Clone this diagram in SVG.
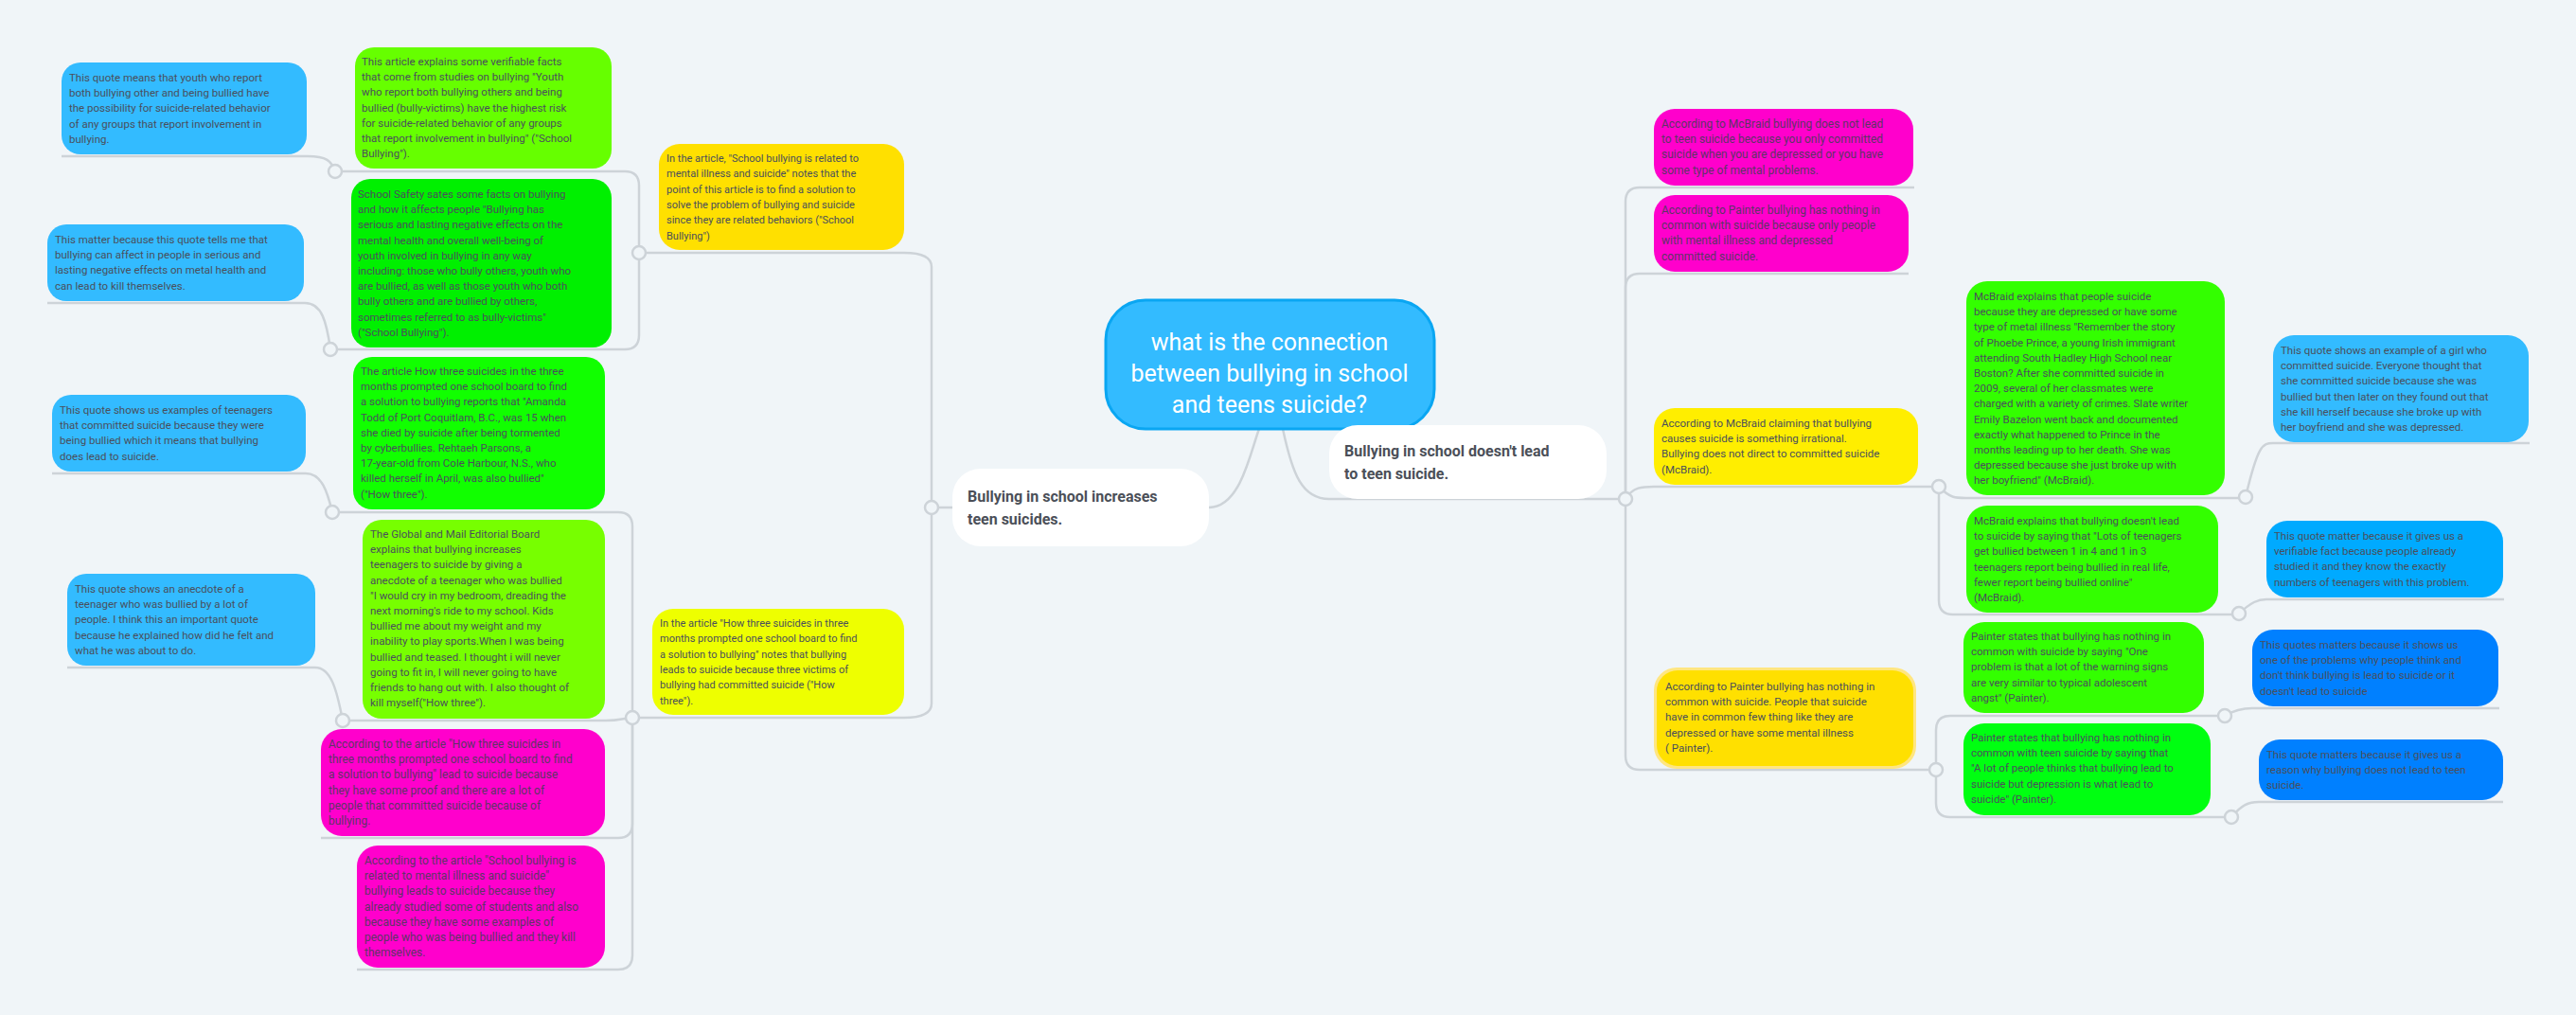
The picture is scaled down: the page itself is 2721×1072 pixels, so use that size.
<svg xmlns="http://www.w3.org/2000/svg" width="2721" height="1072" viewBox="0 0 2721 1072" xml:space="preserve">
<style>
.bg{fill:#f0f5f8}
.ln{fill:none;stroke:#cdd3d8;stroke-width:2.5}
.dot{fill:#f0f5f8;stroke:#cdd3d8;stroke-width:2.5}
.t{font-family:Roboto,"Liberation Sans",sans-serif;font-size:11.5px;fill:#4a4f5c}
.tm{font-family:Roboto,"Liberation Sans",sans-serif;font-size:12px;fill:#5c3566}
.ty{font-family:Roboto,"Liberation Sans",sans-serif;font-size:11px;fill:#4a4f5c}
.tb{font-family:Roboto,"Liberation Sans",sans-serif;font-size:16px;font-weight:bold;fill:#4b4f58}
.tc{font-family:Roboto,"Liberation Sans",sans-serif;font-size:25px;fill:#ffffff}
</style>
<rect class="bg" x="0" y="0" width="2721" height="1072"/>
<g id="connectors">
<path class="ln" d="M675 267 H955 Q984 267 984 282 V536"/>
<path class="ln" d="M668 758 H955 Q984 758 984 743 V536"/>
<path class="ln" d="M984 536 H1006"/>
<path class="ln" d="M354 181 H660 Q675 181 675 196 V267"/>
<path class="ln" d="M349 369 H660 Q675 369 675 354 V267"/>
<path class="ln" d="M351 541 H653 Q668 541 668 556 V758"/>
<path class="ln" d="M362 761 H640 C655 761 660 758 668 758"/>
<path class="ln" d="M339 885 H653 Q668 885 668 870 V758"/>
<path class="ln" d="M377 1024 H653 Q668 1024 668 1009 V758"/>
<path class="ln" d="M65 165 H325 C345 165 350 170 354 181"/>
<path class="ln" d="M50 320 H322 C340 320 345 340 349 369"/>
<path class="ln" d="M55 500 H323 C340 500 346 520 351 541"/>
<path class="ln" d="M71 705 H333 C350 705 356 730 362 761"/>
<path class="ln" d="M1277 536 C1310 536 1320 480 1330 453"/>
<path class="ln" d="M1355 453 C1365 500 1375 527 1404 527 H1717"/>
<path class="ln" d="M1717 527 V213 Q1717 198 1732 198 H2022"/>
<path class="ln" d="M1717 527 V304 Q1717 289 1732 289 H2016"/>
<path class="ln" d="M1717 527 C1725 514 1735 514 1747 514 H2048"/>
<path class="ln" d="M1717 527 V798 Q1717 813 1732 813 H2045"/>
<path class="ln" d="M2048 514 C2060 526 2065 526 2077 526 H2372"/>
<path class="ln" d="M2048 514 V634 Q2048 649 2063 649 H2365"/>
<path class="ln" d="M2372 525 C2385 470 2390 468 2401 468 H2672"/>
<path class="ln" d="M2365 648 C2378 636 2385 633 2394 633 H2645"/>
<path class="ln" d="M2045 813 V771 Q2045 756 2060 756 H2350"/>
<path class="ln" d="M2045 813 V848 Q2045 863 2060 863 H2357"/>
<path class="ln" d="M2350 756 C2360 750 2368 748 2379 748 H2640"/>
<path class="ln" d="M2357 863 C2368 850 2375 847 2386 847 H2644"/>
<circle class="dot" cx="354" cy="181" r="7"/>
<circle class="dot" cx="349" cy="369" r="7"/>
<circle class="dot" cx="351" cy="541" r="7"/>
<circle class="dot" cx="362" cy="761" r="7"/>
<circle class="dot" cx="675" cy="267" r="7"/>
<circle class="dot" cx="668" cy="758" r="7"/>
<circle class="dot" cx="984" cy="536" r="7"/>
<circle class="dot" cx="1717" cy="527" r="7"/>
<circle class="dot" cx="2048" cy="514" r="7"/>
<circle class="dot" cx="2045" cy="813" r="7"/>
<circle class="dot" cx="2372" cy="525" r="7"/>
<circle class="dot" cx="2365" cy="648" r="7"/>
<circle class="dot" cx="2350" cy="756" r="7"/>
<circle class="dot" cx="2357" cy="863" r="7"/>
</g>
<g id="central"><rect x="1168" y="317" width="347" height="136" rx="42" fill="#33bbff" stroke="#0aa6f2" stroke-width="3"/>
<text class="tc" text-anchor="middle"><tspan x="1341" y="370">what is the connection</tspan><tspan x="1341" y="403">between bullying in school</tspan><tspan x="1341" y="436">and teens suicide?</tspan></text></g>
<g id="pro"><rect x="1006" y="495" width="271" height="82" rx="30" fill="#ffffff"/>
<text class="tb"><tspan x="1022" y="530">Bullying in school increases</tspan><tspan x="1022" y="554">teen suicides.</tspan></text></g>
<g id="con"><rect x="1404" y="449" width="293" height="78" rx="30" fill="#ffffff"/>
<text class="tb"><tspan x="1420" y="482">Bullying in school doesn't lead</tspan><tspan x="1420" y="506">to teen suicide.</tspan></text></g>
<g id="blue1"><rect x="65" y="66" width="259" height="97" rx="20" fill="#33bbff"/>
<text class="t"><tspan x="73" y="86">This quote means that youth who report</tspan><tspan x="73" dy="16.2">both bullying other and being bullied have</tspan><tspan x="73" dy="16.2">the possibility for suicide-related behavior</tspan><tspan x="73" dy="16.2">of any groups that report involvement in</tspan><tspan x="73" dy="16.2">bullying.</tspan></text></g>
<g id="green1"><rect x="375" y="50" width="271" height="128" rx="20" fill="#66ff00"/>
<text class="t"><tspan x="382" y="69">This article explains some verifiable facts</tspan><tspan x="382" dy="16.2">that come from studies on bullying "Youth</tspan><tspan x="382" dy="16.2">who report both bullying others and being</tspan><tspan x="382" dy="16.2">bullied (bully-victims) have the highest risk</tspan><tspan x="382" dy="16.2">for suicide-related behavior of any groups</tspan><tspan x="382" dy="16.2">that report involvement in bullying" ("School</tspan><tspan x="382" dy="16.2">Bullying").</tspan></text></g>
<g id="blue2"><rect x="50" y="237" width="271" height="81" rx="20" fill="#33bbff"/>
<text class="t"><tspan x="58" y="257">This matter because this quote tells me that</tspan><tspan x="58" dy="16.2">bullying can affect in people in serious and</tspan><tspan x="58" dy="16.2">lasting negative effects on metal health and</tspan><tspan x="58" dy="16.2">can lead to kill themselves.</tspan></text></g>
<g id="green2"><rect x="371" y="189" width="275" height="178" rx="20" fill="#00f000"/>
<text class="t"><tspan x="378" y="209">School Safety sates some facts on bullying</tspan><tspan x="378" dy="16.2">and how it affects people "Bullying has</tspan><tspan x="378" dy="16.2">serious and lasting negative effects on the</tspan><tspan x="378" dy="16.2">mental health and overall well-being of</tspan><tspan x="378" dy="16.2">youth involved in bullying in any way</tspan><tspan x="378" dy="16.2">including: those who bully others, youth who</tspan><tspan x="378" dy="16.2">are bullied, as well as those youth who both</tspan><tspan x="378" dy="16.2">bully others and are bullied by others,</tspan><tspan x="378" dy="16.2">sometimes referred to as bully-victims"</tspan><tspan x="378" dy="16.2">("School Bullying").</tspan></text></g>
<g id="blue3"><rect x="55" y="417" width="268" height="81" rx="20" fill="#33bbff"/>
<text class="t"><tspan x="63" y="437">This quote shows us examples of teenagers</tspan><tspan x="63" dy="16.2">that committed suicide because they were</tspan><tspan x="63" dy="16.2">being bullied which it means that bullying</tspan><tspan x="63" dy="16.2">does lead to suicide.</tspan></text></g>
<g id="green3"><rect x="373" y="377" width="266" height="161" rx="20" fill="#11ff00"/>
<text class="t"><tspan x="381" y="396">The article How three suicides in the three</tspan><tspan x="381" dy="16.2">months prompted one school board to find</tspan><tspan x="381" dy="16.2">a solution to bullying reports that "Amanda</tspan><tspan x="381" dy="16.2">Todd of Port Coquitlam, B.C., was 15 when</tspan><tspan x="381" dy="16.2">she died by suicide after being tormented</tspan><tspan x="381" dy="16.2">by cyberbullies. Rehtaeh Parsons, a</tspan><tspan x="381" dy="16.2">17-year-old from Cole Harbour, N.S., who</tspan><tspan x="381" dy="16.2">killed herself in April, was also bullied"</tspan><tspan x="381" dy="16.2">("How three").</tspan></text></g>
<g id="blue4"><rect x="71" y="606" width="262" height="97" rx="20" fill="#33bbff"/>
<text class="t"><tspan x="79" y="626">This quote shows an anecdote of a</tspan><tspan x="79" dy="16.2">teenager who was bullied by a lot of</tspan><tspan x="79" dy="16.2">people. I think this an important quote</tspan><tspan x="79" dy="16.2">because he explained  how  did he felt and</tspan><tspan x="79" dy="16.2">what he was about to do.</tspan></text></g>
<g id="green4"><rect x="383" y="549" width="256" height="210" rx="20" fill="#77ff00"/>
<text class="t"><tspan x="391" y="568">The Global and Mail Editorial Board</tspan><tspan x="391" dy="16.2">explains that bullying increases</tspan><tspan x="391" dy="16.2">teenagers to suicide by giving a</tspan><tspan x="391" dy="16.2">anecdote of a teenager who was bullied</tspan><tspan x="391" dy="16.2">"I would cry in my bedroom, dreading the</tspan><tspan x="391" dy="16.2">next morning's ride to my school. Kids</tspan><tspan x="391" dy="16.2">bullied me about my weight and my</tspan><tspan x="391" dy="16.2">inability to play sports.When I was being</tspan><tspan x="391" dy="16.2">bullied and teased. I thought i will never</tspan><tspan x="391" dy="16.2">going to fit in, I will never going to have</tspan><tspan x="391" dy="16.2">friends to hang out with. I also thought of</tspan><tspan x="391" dy="16.2">kill myself("How three").</tspan></text></g>
<g id="magenta1"><rect x="339" y="770" width="300" height="113" rx="22" fill="#ff00cc"/>
<text class="tm"><tspan x="347" y="790">According to the article "How three suicides in</tspan><tspan x="347" dy="16.2">three months prompted one school board to find</tspan><tspan x="347" dy="16.2">a solution to bullying" lead to suicide because</tspan><tspan x="347" dy="16.2">they have some proof and there are a lot of</tspan><tspan x="347" dy="16.2">people that committed suicide because of</tspan><tspan x="347" dy="16.2">bullying.</tspan></text></g>
<g id="magenta2"><rect x="377" y="893" width="262" height="129" rx="22" fill="#ff00cc"/>
<text class="tm"><tspan x="385" y="913">According to the article "School bullying is</tspan><tspan x="385" dy="16.2">related to mental illness and suicide"</tspan><tspan x="385" dy="16.2">bullying leads to suicide because they</tspan><tspan x="385" dy="16.2">already studied some of students and also</tspan><tspan x="385" dy="16.2">because they have some examples of</tspan><tspan x="385" dy="16.2">people who was being bullied and they kill</tspan><tspan x="385" dy="16.2">themselves.</tspan></text></g>
<g id="yellow1"><rect x="696" y="152" width="259" height="112" rx="22" fill="#ffe000"/>
<text class="ty"><tspan x="704" y="171">In the article, "School bullying is related to</tspan><tspan x="704" dy="16.3">mental illness and suicide" notes that the</tspan><tspan x="704" dy="16.3">point of this article is to find a solution to</tspan><tspan x="704" dy="16.3">solve the problem of bullying and suicide</tspan><tspan x="704" dy="16.3">since they are related behaviors ("School</tspan><tspan x="704" dy="16.3">Bullying")</tspan></text></g>
<g id="yellow2"><rect x="689" y="643" width="266" height="112" rx="22" fill="#eeff00"/>
<text class="ty"><tspan x="697" y="662">In the article "How three suicides in three</tspan><tspan x="697" dy="16.3">months prompted one school board to find</tspan><tspan x="697" dy="16.3">a solution to bullying" notes that bullying</tspan><tspan x="697" dy="16.3">leads to suicide because three victims of</tspan><tspan x="697" dy="16.3">bullying had committed suicide ("How</tspan><tspan x="697" dy="16.3">three").</tspan></text></g>
<g id="magentaR1"><rect x="1747" y="115" width="274" height="81" rx="22" fill="#ff00cc"/>
<text class="tm"><tspan x="1755" y="135">According to McBraid bullying does not lead</tspan><tspan x="1755" dy="16.2">to teen suicide because you only committed</tspan><tspan x="1755" dy="16.2">suicide when you are depressed or you have</tspan><tspan x="1755" dy="16.2">some type of mental problems.</tspan></text></g>
<g id="magentaR2"><rect x="1747" y="206" width="269" height="81" rx="22" fill="#ff00cc"/>
<text class="tm"><tspan x="1755" y="226">According to Painter bullying has nothing in</tspan><tspan x="1755" dy="16.2">common with suicide because only people</tspan><tspan x="1755" dy="16.2">with mental illness and depressed</tspan><tspan x="1755" dy="16.2">committed suicide.</tspan></text></g>
<g id="yellowR1"><rect x="1747" y="431" width="279" height="81" rx="22" fill="#ffee00"/>
<text class="t"><tspan x="1755" y="451">According to McBraid claiming that bullying</tspan><tspan x="1755" dy="16.2">causes suicide is something irrational.</tspan><tspan x="1755" dy="16.2">Bullying does not direct to committed suicide</tspan><tspan x="1755" dy="16.2">(McBraid).</tspan></text></g>
<g id="greenR1"><rect x="2077" y="297" width="273" height="226" rx="22" fill="#33ff00"/>
<text class="t"><tspan x="2085" y="317">McBraid explains that people suicide</tspan><tspan x="2085" dy="16.2">because they are depressed or have some</tspan><tspan x="2085" dy="16.2">type of metal illness  "Remember the story</tspan><tspan x="2085" dy="16.2">of Phoebe Prince, a young Irish immigrant</tspan><tspan x="2085" dy="16.2">attending South Hadley High School near</tspan><tspan x="2085" dy="16.2">Boston? After she committed suicide in</tspan><tspan x="2085" dy="16.2">2009, several of her classmates were</tspan><tspan x="2085" dy="16.2">charged with a variety of crimes. Slate writer</tspan><tspan x="2085" dy="16.2">Emily Bazelon went back and documented</tspan><tspan x="2085" dy="16.2">exactly what happened to Prince in the</tspan><tspan x="2085" dy="16.2">months leading up to her death. She was</tspan><tspan x="2085" dy="16.2">depressed because she just broke up with</tspan><tspan x="2085" dy="16.2">her boyfriend" (McBraid).</tspan></text></g>
<g id="greenR2"><rect x="2077" y="534" width="266" height="113" rx="22" fill="#33ff00"/>
<text class="t"><tspan x="2085" y="554">McBraid explains that bullying doesn't lead</tspan><tspan x="2085" dy="16.2">to suicide by saying that "Lots of teenagers</tspan><tspan x="2085" dy="16.2">get bullied between 1 in 4 and 1 in 3</tspan><tspan x="2085" dy="16.2">teenagers report being bullied in real life,</tspan><tspan x="2085" dy="16.2">fewer report being bullied online"</tspan><tspan x="2085" dy="16.2">(McBraid).</tspan></text></g>
<g id="blueR1"><rect x="2401" y="354" width="270" height="113" rx="22" fill="#33bbff"/>
<text class="t"><tspan x="2409" y="374">This quote shows an example of a girl who</tspan><tspan x="2409" dy="16.2">committed suicide. Everyone thought that</tspan><tspan x="2409" dy="16.2">she committed suicide because she was</tspan><tspan x="2409" dy="16.2">bullied but then later on they found out that</tspan><tspan x="2409" dy="16.2">she kill herself because she broke up with</tspan><tspan x="2409" dy="16.2">her boyfriend and she was depressed.</tspan></text></g>
<g id="blueR2"><rect x="2394" y="550" width="250" height="81" rx="22" fill="#00aaff"/>
<text class="t"><tspan x="2402" y="570">This quote matter because it gives us a</tspan><tspan x="2402" dy="16.2">verifiable fact because people already</tspan><tspan x="2402" dy="16.2">studied it and they know the exactly</tspan><tspan x="2402" dy="16.2">numbers of teenagers with this problem.</tspan></text></g>
<g id="yellowR2"><rect x="1747" y="705" width="277" height="107" rx="24" fill="#ffe680"/><rect x="1750" y="708" width="271" height="101" rx="22" fill="#ffe000"/>
<text class="t"><tspan x="1759" y="729">According to Painter bullying has nothing in</tspan><tspan x="1759" dy="16.2">common with suicide. People that suicide</tspan><tspan x="1759" dy="16.2">have in common few thing like they are</tspan><tspan x="1759" dy="16.2">depressed or have some mental illness</tspan><tspan x="1759" dy="16.2">( Painter).</tspan></text></g>
<g id="greenR3"><rect x="2074" y="657" width="254" height="96" rx="22" fill="#33ff00"/>
<text class="t"><tspan x="2082" y="676">Painter states that bullying has nothing in</tspan><tspan x="2082" dy="16.2">common with suicide by saying "One</tspan><tspan x="2082" dy="16.2">problem is that a lot of the warning signs</tspan><tspan x="2082" dy="16.2">are very similar to typical adolescent</tspan><tspan x="2082" dy="16.2">angst" (Painter).</tspan></text></g>
<g id="greenR4"><rect x="2074" y="764" width="261" height="97" rx="22" fill="#00ff11"/>
<text class="t"><tspan x="2082" y="783">Painter states that bullying has nothing in</tspan><tspan x="2082" dy="16.2">common with teen suicide by saying that</tspan><tspan x="2082" dy="16.2">"A lot of people thinks that bullying lead to</tspan><tspan x="2082" dy="16.2">suicide but depression is what lead to</tspan><tspan x="2082" dy="16.2">suicide" (Painter).</tspan></text></g>
<g id="blueR3"><rect x="2379" y="665" width="260" height="81" rx="22" fill="#0080ff"/>
<text class="t"><tspan x="2387" y="685">This quotes matters because it shows us</tspan><tspan x="2387" dy="16.2">one of the problems why people think and</tspan><tspan x="2387" dy="16.2">don't think bullying is  lead to suicide or it</tspan><tspan x="2387" dy="16.2">doesn't lead to suicide</tspan></text></g>
<g id="blueR4"><rect x="2386" y="781" width="258" height="64" rx="22" fill="#0080ff"/>
<text class="t"><tspan x="2394" y="801">This quote matters because it gives us a</tspan><tspan x="2394" dy="16.2">reason why bullying does not lead to teen</tspan><tspan x="2394" dy="16.2">suicide.</tspan></text></g>
</svg>
